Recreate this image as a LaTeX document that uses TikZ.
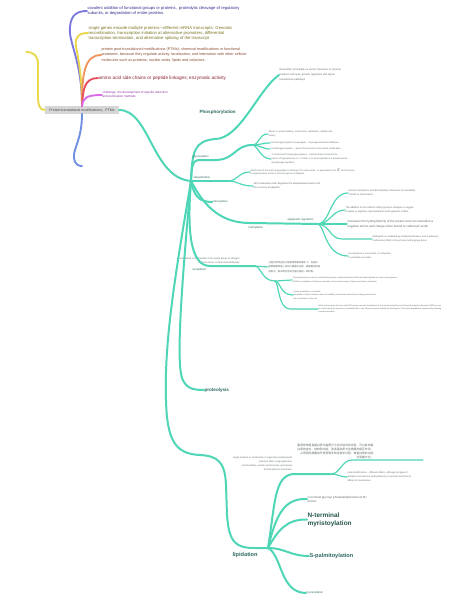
\documentclass[tikz,border=0pt]{standalone}
\usepackage{fontspec}
\setmainfont{Liberation Sans}
\newfontfamily\cjk{Noto Sans CJK SC}
\usetikzlibrary{calc}

\newcommand{\fsz}[2]{\fontsize{#1}{#2}\selectfont}

\definecolor{mint}{HTML}{4FD6B6}
\definecolor{topicink}{HTML}{2E6A60}
\definecolor{noteink}{HTML}{5F6B68}
\definecolor{rootgray}{HTML}{D6D6D6}
\definecolor{rootink}{HTML}{444444}
\definecolor{covline}{HTML}{7B78E0}
\definecolor{covink}{HTML}{2E2E8E}
\definecolor{sgline}{HTML}{E8D54A}
\definecolor{sgink}{HTML}{7A7420}
\definecolor{ptmline}{HTML}{F0965E}
\definecolor{ptmink}{HTML}{8A4A30}
\definecolor{aaline}{HTML}{E55060}
\definecolor{aaink}{HTML}{8E2236}
\definecolor{chline}{HTML}{D76CE6}
\definecolor{chink}{HTML}{8F2FA3}
\definecolor{yline}{HTML}{E9D94C}
\definecolor{bline}{HTML}{6E8EE3}

\begin{document}
\begin{tikzpicture}[x=0.03cm,y=-0.03cm,line cap=round,line join=round,
  mainline/.style={draw=mint,line width=1.7pt},
  subline/.style={draw=mint,line width=1pt},
  topline/.style={line width=1.6pt},
  note/.style={anchor=west,align=left,inner sep=0.3pt,text=noteink,font=\fsz{2}{3.3}},
  topic/.style={anchor=west,inner sep=0.3pt,text=topicink,font=\fsz{2.4}{3}},
  major/.style={anchor=west,align=left,inner sep=0.3pt,text=topicink,font=\bfseries\fsz{3.9}{4.6}}]
\fill[white] (0,0) rectangle (474,603);
\useasboundingbox (0,0) rectangle (474,603);
% --- root and coloured branches
\node[fill=rootgray,text=rootink,inner xsep=1.5pt,inner ysep=0pt,minimum width=63pt,minimum height=6pt,font=\fsz{3}{3.5}] (root) at (82,110) {Protein translational modifications{\cjk ，}PTMs};
\node[note,text=covink,font=\fsz{3.5}{4.3}] (cov) at (87,11) {covalent addition of functional groups or proteins,\ \ proteolytic cleavage of regulatory\\subunits, or degradation of entire proteins.};
\node[note,text=sgink,font=\fsz{3.6}{4.3}] (single) at (88,33) {single genes encode multiple proteins---different mRNA transcripts: Genomic\\recombination, transcription initiation at alternative promoters, differential\\transcription termination, and alternative splicing of the transcript};
\node[note,text=ptmink,font=\fsz{3.2}{4.3}] (ptm) at (101,55) {protein post-translational modifications (PTMs): chemical modifications in functional\\proteomic, because they regulate activity, localization, and interaction with other cellular\\molecules such as proteins, nucleic acids, lipids and cofactors.};
\node[note,text=aaink,font=\fsz{4}{4.8}] (amino) at (98,78) {amino acid side chains or peptide linkages; enzymatic activity};
\node[note,text=chink,font=\fsz{2.6}{3.4}] (chall) at (102,95) {challenge: the development of specific detection\\and purification methods};
\coordinate (ytip) at (26,52);
\coordinate (btip) at (82,166);
\draw[topline,draw=covline] (root.north) .. controls (82,60) and (68,42) .. (70,27) .. controls (71,14) and (78,11) .. (cov.west);
\draw[topline,draw=sgline] (root.north) .. controls (82,62) and (74,46) .. (76,40) .. controls (78,34) and (82,33) .. (single.west);
\draw[topline,draw=ptmline] (root.north) .. controls (82,75) and (84,55) .. (ptm.west);
\draw[topline,draw=aaline] (root.north) .. controls (83,90) and (84,78) .. (amino.west);
\draw[topline,draw=chline] (root.north) .. controls (83,98) and (86,95) .. (chall.west);
\draw[topline,draw=yline] (root.west) .. controls (39,110) and (38,104) .. (38,95) -- (38,64) .. controls (38,56) and (34,52) .. (ytip);
\draw[topline,draw=bline] (root.south) .. controls (82,140) and (73,148) .. (74,158) .. controls (75,165) and (79,166) .. (btip);
% --- teal hub
\coordinate (hub) at (191,181);
\draw[mainline] (root.east) .. controls (150,110) and (152,178) .. (hub);
% phosphorylation
\node[major] (phos) at (199,112) {Phosphorylation};
\node[note,font=\fsz{2.2}{4}] (phosnote) at (279,75) {Reversible, principally on serine, threonine or tyrosine\\residues cell cycle, growth, apoptosis and signal\\transduction pathways};
\draw[mainline] (hub) .. controls (192,150) and (195,141) .. (215,139) .. controls (240,139) and (258,90) .. (phosnote.west);
% glycosylation
\node[topic] (glyco) at (192,157) {glycosylation};
\coordinate (gsub) at (252,145);
\node[note,font=\fsz{1.9}{3.2}] (ga) at (268,134) {Affects on protein folding, conformation, distribution, stability and\\activity};
\node[note,font=\fsz{1.9}{3.2}] (gb) at (270,143) {-N-linked glycosylation (Asparagine) \textasciitilde{} Asparagine-linked modification};
\node[note,font=\fsz{1.9}{3.2}] (gc) at (270,149) {-O-linked glycosylation \textasciitilde{} Serine/Threonine/Tyrosine-linked modification};
\node[note,font=\fsz{1.9}{3.2}] (gd) at (271,159) {-C-linked and P-linked glycosylation \textasciitilde{} Carbohydrate is linked to the\\carbon of tryptophan by a C--C bond, or to the phosphate of a phosphoserine\\(phosphoglycosylation)};
\draw[mainline] (hub) .. controls (192,166) and (192,160) .. (200,160) -- (215,160) .. controls (235,160) and (235,145) .. (gsub);
\draw[subline] (gsub) .. controls (260,145) and (258,134) .. (ga.west);
\draw[subline] (gsub) .. controls (260,145) and (262,143) .. (gb.west);
\draw[subline] (gsub) .. controls (260,145) and (262,149) .. (gc.west);
\draw[subline] (gsub) .. controls (258,145) and (260,159) .. (gd.west);
% ubiquitination
\node[topic] (ubiq) at (193,178) {ubiquitination};
\coordinate (usub) at (228,181);
\node[note,font=\fsz{1.9}{3.2}] (ua) at (250,172) {Attachment of the 8-kDa polypeptide consisting of 76 amino acids \textasciitilde{} is appended to the $\varepsilon$-NH2 of lysine\\in target proteins via the C-terminal glycine of ubiquitin};
\node[note,font=\fsz{2.1}{3.4}] (ub) at (253,186) {26S proteasome then degrades the ubiquitinated protein and\\the recovery of ubiquitin};
\draw[mainline] (hub) -- (usub);
\draw[subline] (usub) .. controls (238,181) and (238,172) .. (ua.west);
\draw[subline] (usub) .. controls (238,181) and (240,186) .. (ub.west);
% nitrosylation
\node[topic] (nitro) at (212,202) {nitrosylation};
\draw[mainline] (hub) .. controls (194,195) and (198,202) .. (nitro.west);
% methylation
\node[topic] (methyl) at (248,228) {methylation};
\node[topic] (epi) at (287,220) {epigenetic regulation};
\coordinate (msub) at (318,224);
\node[note] (ma) at (348,193) {Histone methylation and demethylation influences the availability\\of DNA for transcription};
\node[note,font=\fsz{2.1}{3.3}] (mb) at (345,210) {The addition of one carbon methyl group to nitrogen or oxygen\\to lysine or arginine; represented in some genomic orders};
\node[note,font=\fsz{2.6}{3.9}] (mc) at (347,224) {increases the hydrophobicity of the protein and can neutralize a\\negative amino acid charge when bound to carboxylic acids};
\node[note] (md) at (372,239) {Methylation is mediated by methyltransferases, and S-adenosyl\\methionine (SAM) is the primary methyl group donor};
\node[note,font=\fsz{1.9}{3.2}] (me) at (348,256) {N-methylation is irreversible, O-methylation\\is potentially reversible};
\draw[mainline] (hub) .. controls (205,208) and (222,223) .. (250,223) -- (msub);
\draw[subline] (msub) .. controls (330,224) and (330,193) .. (ma.west);
\draw[subline] (msub) .. controls (330,224) and (332,210) .. (mb.west);
\draw[subline] (msub) -- (mc.west);
\draw[subline] (msub) .. controls (330,225) and (330,239) .. (342,239) -- (md.west);
\draw[subline] (msub) .. controls (325,226) and (325,256) .. (me.west);
% acetylation
\node[note,align=right,anchor=east,font=\fsz{2.1}{3.4}] (adesc) at (240,261) {N-acetylation is the transfer of an acetyl group to nitrogen\\and can occur co-/post-translationally};
\node[topic] (acetyl) at (192,270) {acetylation};
\coordinate (asub) at (255,266);
\coordinate (asub2) at (275,281);
\node[note,font=\cjk\fsz{2}{3.6}] (acn) at (268,267) {乙酰化修饰指在乙酰基转移酶的催化下，在蛋白\\质赖氨酸残基上添加乙酰基的过程，是细胞控制基\\因表达、蛋白质活性或生理过程的一种机制。};
\node[note,font=\fsz{1.7}{2.9}] (aa) at (292,280) {Transcription factors can be acetylated by histone acetyltransferases (HATs) and deacetylated by histone deacetylases\\(HDACs); acetylation of histones neutralizes the positive charge of lysine and relaxes chromatin};
\node[note,font=\fsz{1.7}{2.9}] (ab) at (293,295) {Lysine acetylation is reversible\\acetylation of lysine residues alters the stability, interactions and activity of many proteins and\\their localization in the cell};
\node[note,font=\fsz{1.7}{2.9}] (ac) at (318,309) {While nuclear gene histones with NAT groups are well characterized, N-terminal acetylation by N-terminal acetyltransferases (NATs) occurs\\on most eukaryotic proteins co-translationally; it can influence protein stability by blocking the N-terminal degradation signals and promoting\\complex formation};
\draw[mainline] (hub) .. controls (187,230) and (190,266) .. (210,266) -- (asub);
\draw[subline] (asub) -- (acn.west);
\draw[subline] (asub) .. controls (262,268) and (262,281) .. (asub2);
\draw[subline] (asub2) -- (aa.west);
\draw[subline] (asub2) .. controls (281,282) and (280,295) .. (ab.west);
\draw[subline] (asub2) .. controls (279,283) and (278,309) .. (290,309) -- (ac.west);
% proteolysis
\node[major] (prot) at (204,390) {proteolysis};
\draw[mainline] (hub) .. controls (182,280) and (176,360) .. (182,378) .. controls (186,388) and (192,390) .. (prot.west);
% lipidation
\coordinate (lhub) at (268,548);
\node[major,font=\bfseries\fsz{4.8}{5.6}] (lipid) at (232,555) {lipidation};
\draw[mainline] (hub) .. controls (176,270) and (164,340) .. (166,400) .. controls (167,440) and (175,454) .. (200,455) .. controls (218,456) and (225,462) .. (226,485) -- (227,515) .. controls (229,543) and (236,548) .. (255,548) -- (lhub);
\coordinate (tsub) at (331,474);
\coordinate (cnend) at (423,460);
\node[note,align=right,anchor=east,font=\fsz{2}{3.4}] (tdesc) at (293,464) {target proteins to membranes in organelles (endoplasmic\\reticulum (ER), Golgi apparatus,\\mitochondria), vesicles (endosomes, lysosomes)\\and the plasma membrane.};
\node[note,align=right,anchor=south east,font=\cjk\fsz{2.4}{3.3}] (lcn) at (374,459) {脂质修饰是指蛋白质与脂质分子共价结合的过程，可以影响蛋\\白质的定位、结构和功能，改变蛋白质与生物膜的相互作用，\\从而调控细胞信号转导等多种生物学过程，使蛋白质的功能\\达到最大化。};
\node[note] (lnote) at (347,477) {Lipid modifications \textasciitilde{} different effects, although all types of\\lipidation increase the hydrophobicity of a protein and thus its\\affinity for membranes};
\node[note,font=\fsz{2.5}{3.4}] (gpi) at (307,499) {C-terminal glycosyl phosphatidylinositol (GPI)\\anchor};
\node[major,text=topicink!80!black,font=\bfseries\fsz{5.5}{6.8}] (nmyr) at (307,519.5) {N-terminal\\myristoylation};
\node[major,font=\bfseries\fsz{4.8}{5.6}] (spalm) at (309,556) {S-palmitoylation};
\node[topic,font=\fsz{2.4}{3}] (spren) at (306,593) {S-prenylation};
\draw[mainline] (lhub) .. controls (275,505) and (274,476) .. (293,474) -- (tsub);
\draw[subline] (tsub) .. controls (340,474) and (342,460) .. (352,460) -- (cnend);
\draw[subline] (tsub) .. controls (338,474) and (340,477) .. (lnote.west);
\draw[mainline] (lhub) .. controls (276,515) and (284,498) .. (gpi.west);
\draw[mainline] (lhub) .. controls (278,530) and (287,519) .. (nmyr.west);
\draw[mainline] (lhub) .. controls (285,548) and (290,556) .. (spalm.west);
\draw[mainline] (lhub) .. controls (282,555) and (280,593) .. (spren.west);
\end{tikzpicture}
\end{document}
